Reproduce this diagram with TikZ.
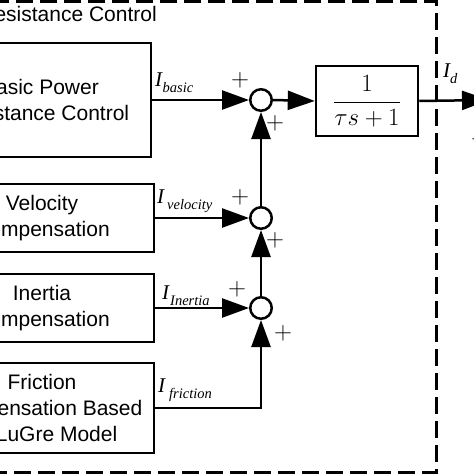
\documentclass[tikz,border=0pt]{standalone}
\usepackage{fontspec}
\setmainfont{Liberation Sans}
\newfontfamily\lserif{Liberation Serif}
\usetikzlibrary{arrows.meta}
\tikzset{
  blockbox/.style={draw, line width=2.5pt, inner sep=0pt, align=center,
    font=\fontsize{21}{26}\selectfont},
  sumj/.style={draw, circle, line width=2.5pt, minimum size=21.5pt, inner sep=0pt},
  sig/.style={inner sep=0pt, anchor=base west},
  plus/.style={inner sep=0pt, font=\fontsize{26}{26}\selectfont},
  arr/.style={line width=2.5pt, -{Triangle[length=27pt,width=19pt]}},
  frame/.style={line width=3pt, dash pattern=on 17pt off 7pt},
}
\newcommand{\sigI}[3]{{\lserif\fontsize{21}{21}\selectfont\itshape I\kern#1\raisebox{-6.5pt}{\fontsize{14.5}{14.5}\selectfont #2}}#3}
\begin{document}
\begin{tikzpicture}[x=1pt,y=-1pt]
\useasboundingbox (0,0) rectangle (474,474);
% outer dashed frame
\draw[frame] (-200,1) -- (436,1) -- (436,472) -- (-200,472);
\node[inner sep=0pt, anchor=base east, font=\fontsize{21}{21}\selectfont] (title) at (157,21) {Power Resistance Control};
% blocks
\node[blockbox, minimum width=221pt, minimum height=114pt] (b1) at (40.5,100) {Basic Power\\Resistance Control};
\node[blockbox, minimum width=224pt, minimum height=68pt] (b2) at (42,218) {Velocity\\Compensation};
\node[blockbox, minimum width=224pt, minimum height=68pt] (b3) at (42,308) {Inertia\\Compensation};
\node[blockbox, minimum width=224pt, minimum height=90pt] (b4) at (42,408) {Friction\\Compensation Based\\on LuGre Model};
\node[draw, line width=2.5pt, minimum width=102pt, minimum height=70pt, inner sep=0pt,
      font=\fontsize{23.5}{26}\selectfont] (g) at (367,101) {$\displaystyle\frac{1}{\tau s+1}$};
% summing junctions
\node[sumj] (c1) at (261,100) {};
\node[sumj] (c2) at (261,218) {};
\node[sumj] (c3) at (261,308) {};
\coordinate (out) at (489,100);
% connectors
\draw[arr] (b1.east |- c1) -- (c1.west);
\draw[arr] (b2.east |- c2) -- (c2.west);
\draw[arr] (b3.east |- c3) -- (c3.west);
\draw[arr] (b4.east) -- (c3 |- b4.east) -- (c3.south);
\draw[arr] (c3.north) -- (c2.south);
\draw[arr] (c2.north) -- (c1.south);
\draw[arr] (c1.east) -- (g.west);
\draw[arr] (g.east) -- (out);
% signal labels
\node[sig] (lb) at (155,86) {\sigI{0.5pt}{basic}{}};
\node[sig] (lv) at (157,203) {\sigI{3pt}{velocity}{}};
\node[sig] (li) at (162,299) {\sigI{1pt}{Inertia}{}};
\node[sig] (lf) at (158,392) {\sigI{4pt}{friction}{}};
\node[sig] (ld) at (443,77) {\sigI{0pt}{d}{}};
% plus signs
\node[plus] (p1a) at (240,80) {$+$};
\node[plus] (p1b) at (275,123) {$+$};
\node[plus] (p2a) at (240,197) {$+$};
\node[plus] (p2b) at (275,240) {$+$};
\node[plus] (p3a) at (237,289) {$+$};
\node[plus] (p3b) at (283,333) {$+$};
\node[plus] (p4a) at (480,139) {$+$};
\end{tikzpicture}
\end{document}
